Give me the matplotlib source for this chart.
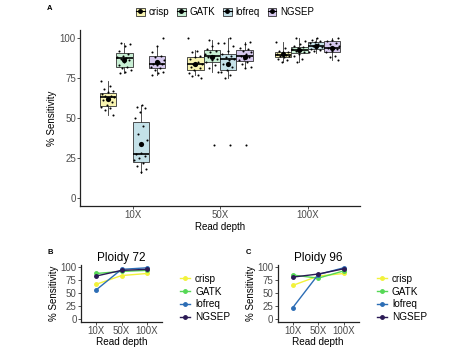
import matplotlib
matplotlib.use("Agg")
import matplotlib.pyplot as plt
from matplotlib.patches import Patch
from matplotlib.lines import Line2D
from matplotlib.legend_handler import HandlerTuple
import numpy as np

plt.rcParams['font.family'] = ['Liberation Sans', 'DejaVu Sans']

# ---------------- data ----------------
tools = ["crisp", "GATK", "lofreq", "NGSEP"]
depths = ["10X", "50X", "100X"]

# box statistics per depth (rows) and tool (cols): whislo, q1, med, q3, whishi
whislo = [[52, 78, 15.6, 77], [77, 79, 75, 81], [85, 85, 90.6, 86]]
q1 = [[57.5, 82, 22.7, 81], [80, 85, 80, 85.6], [88.3, 90.4, 93, 91.5]]
med = [[63, 87.5, 27.5, 83.8], [84, 89, 87, 88.8], [89.5, 92.5, 95, 93.8]]
q3 = [[65.6, 90.6, 47.7, 88.8], [88, 92.5, 90, 92.5], [91.5, 94.5, 97.7, 98]]
whishi = [[73, 97, 58, 95], [92.5, 98.8, 100, 97.7], [97.5, 100, 100, 100]]
means = [[62, 86, 33.7, 85], [84, 88, 84, 88], [90, 92.5, 95, 94]]

# individual replicate values
points = {
    ("10X", "crisp"): [73, 70, 68, 67, 66, 65, 64, 63.5, 63, 62, 61, 60, 58, 57, 56, 55, 52],
    ("10X", "GATK"): [97, 96, 95, 92, 90, 89, 88, 87.5, 87, 86, 85, 83, 82, 81, 80, 79, 78],
    ("10X", "lofreq"): [58, 57, 56, 54, 50, 45, 40, 36, 28, 27.5, 26, 25, 24, 22, 20, 18, 16],
    ("10X", "NGSEP"): [100, 95, 91, 89, 88, 86, 85, 84, 83.5, 83, 82, 81, 80, 79, 78, 77],
    ("50X", "crisp"): [100, 92, 91, 89, 88, 87, 85, 84, 84, 83, 82, 81, 80, 78, 77, 76, 75],
    ("50X", "GATK"): [98.8, 97, 95, 93, 92, 91, 90, 89, 88, 87, 86, 85, 83, 81, 79, 33.3],
    ("50X", "lofreq"): [100, 97, 95, 92, 90, 89, 88, 87, 86, 84, 82, 80, 79, 77, 75, 33.3],
    ("50X", "NGSEP"): [97.7, 96, 94, 93, 92, 91, 90, 89, 88, 87, 86, 85, 84, 82, 81, 33.3],
    ("100X", "crisp"): [97.5, 94, 92, 91.5, 91, 90, 89.5, 89, 88.5, 88, 87, 86, 85],
    ("100X", "GATK"): [100, 98, 96, 95, 94.5, 94, 93, 92.5, 92, 91, 90, 89, 87, 85],
    ("100X", "lofreq"): [100, 99, 98, 97.5, 97, 96, 95, 94.5, 94, 93, 92.5, 92, 91],
    ("100X", "NGSEP"): [100, 99, 98, 97, 96, 95, 94, 93.5, 93, 92, 91, 89, 88, 86],
}

# line panels
ploidy72 = {"crisp": [67, 84, 88], "GATK": [88, 92, 94], "lofreq": [56, 96, 99], "NGSEP": [83, 94, 96]}
ploidy96 = {"crisp": [65, 83, 88], "GATK": [85, 79, 93], "lofreq": [22, 86, 99], "NGSEP": [81, 87, 97]}

yticks = [0, 25, 50, 75, 100]

# ---------------- style ----------------
fill_colors = {"crisp": "#F8F4B0", "GATK": "#C8EFD4", "lofreq": "#C4E1E8", "NGSEP": "#D6C9EE"}
line_colors = {"crisp": "#F2F23A", "GATK": "#55D855", "lofreq": "#2C6DB5", "NGSEP": "#2B1A55"}
tick_gray = "#4D4D4D"

W, H = 474, 359
fig = plt.figure(figsize=(W / 100, H / 100), dpi=100)


def rect(l, r, t, b):
    return [l / W, (H - b) / H, (r - l) / W, (b - t) / H]


def style_axes(ax, fs):
    for s in ["top", "right"]:
        ax.spines[s].set_visible(False)
    for s in ["left", "bottom"]:
        ax.spines[s].set_linewidth(0.9)
        ax.spines[s].set_color("#222222")
    ax.tick_params(axis="both", length=2, width=0.6, colors="#333333", labelcolor=tick_gray,
                   labelsize=fs, pad=1)


# ---------------- panel A ----------------
axA = fig.add_axes(rect(80, 360, 30, 206))
offsets = [-0.28125, -0.09375, 0.09375, 0.28125]
bw = 0.1875
for di, d in enumerate(depths):
    for ti, t in enumerate(tools):
        pos = di + 1 + offsets[ti]
        st = dict(whislo=whislo[di][ti], q1=q1[di][ti], med=med[di][ti], q3=q3[di][ti],
                  whishi=whishi[di][ti], fliers=[])
        axA.bxp([st], positions=[pos], widths=bw, patch_artist=True, showcaps=False,
                showfliers=False,
                boxprops=dict(facecolor=fill_colors[t], edgecolor="#333333", linewidth=0.6),
                medianprops=dict(color="black", linewidth=1.2),
                whiskerprops=dict(color="#333333", linewidth=0.6))
        vals = points[(d, t)]
        n = len(vals)
        jit = np.array([((k * 0.6180339 + 0.3 * ti) % 1.0) - 0.5 for k in range(n)]) * 0.16
        xs = [pos + j if v > 40 or d == "10X" else pos + 0.02 for v, j in zip(vals, jit)]
        axA.scatter(xs, vals, s=2.2, color="black", zorder=4, linewidths=0)
        axA.scatter([pos], [means[di][ti]], s=14, color="black", zorder=5, linewidths=0)

axA.set_xlim(0.4, 3.6)
axA.set_ylim(-5, 105)
axA.set_xticks([1, 2, 3])
axA.set_xticklabels(depths)
axA.set_yticks(yticks)
style_axes(axA, 7)
axA.set_xlabel("Read depth", fontsize=7, labelpad=1)
axA.set_ylabel("% Sensitivity", fontsize=7, labelpad=2)

handles = [(Patch(facecolor=fill_colors[t], edgecolor="#333333", linewidth=0.6),
            Line2D([0, 1], [0.5, 0.5], color="black", linewidth=0.8),
            Line2D([], [], marker="o", markersize=2.5, color="black", linestyle="none"))
           for t in tools]
fig.legend(handles, tools, loc="center", bbox_to_anchor=(225 / W, 1 - 12 / H), ncol=4,
           frameon=False, fontsize=7, handlelength=0.9, handleheight=0.9,
           handletextpad=0.4, columnspacing=0.8, borderpad=0,
           handler_map={tuple: HandlerTuple(ndivide=1, pad=0)})

# ---------------- panels B & C ----------------
def line_panel(ax_rect, data, title, leg_x):
    ax = fig.add_axes(ax_rect)
    x = np.arange(1, 4)
    for t in tools:
        ax.plot(x, data[t], color=line_colors[t], linewidth=1.0, marker="o", markersize=2.5,
                label=t)
    ax.set_xlim(0.4, 3.6)
    ax.set_ylim(-5, 105)
    ax.set_xticks([1, 2, 3])
    ax.set_xticklabels(depths)
    ax.set_yticks(yticks)
    style_axes(ax, 7)
    ax.set_xlabel("Read depth", fontsize=7.2, labelpad=1)
    ax.set_ylabel("% Sensitivity", fontsize=7, labelpad=1)
    ax.set_title(title, fontsize=8.5, pad=3)
    ax.legend(loc="center left", bbox_to_anchor=(leg_x, 1 - 298 / H),
              bbox_transform=fig.transFigure,
              frameon=False, fontsize=7.2, handlelength=1.0, handletextpad=0.5,
              labelspacing=0.28, borderpad=0)
    return ax


line_panel(rect(80.7, 162.3, 264.7, 321.6), ploidy72, "Ploidy 72", 175 / W)
line_panel(rect(277.5, 359, 264.7, 321.6), ploidy96, "Ploidy 96", 372 / W)

fig.text(50 / W, 1 - 9 / H, "A", fontsize=5.5, fontweight="bold", ha="center", va="center")
fig.text(50 / W, 1 - 252 / H, "B", fontsize=5.5, fontweight="bold", ha="center", va="center")
fig.text(248 / W, 1 - 252 / H, "C", fontsize=5.5, fontweight="bold", ha="center", va="center")

fig.savefig("out.png", dpi=100, facecolor="white")
